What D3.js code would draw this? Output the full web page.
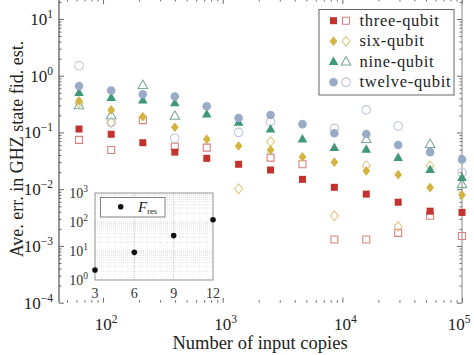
<!DOCTYPE html>
<html><head><meta charset="utf-8">
<script src="https://cdn.jsdelivr.net/npm/d3@7"></script>
<style>body{margin:0;background:#fff}svg{display:block}text{font-family:"Liberation Serif","Times New Roman",serif}</style>
</head><body><svg id="c" width="474" height="355"></svg>
<script>
// ---- data ----
const copies = [63, 117, 215, 398, 736, 1359, 2512, 4642, 8577, 15849, 29286, 54117, 100000];
const threeFilled  = [0.115, 0.093, 0.066, 0.045, 0.035, 0.0275, 0.0218, 0.0149, 0.0108, 0.0082, 0.0059, 0.0041, 0.0039];
const threeOpen    = [0.074, 0.049, 0.165, 0.056, 0.054, null, 0.036, 0.0275, 0.0013, 0.0013, 0.0017, 0.0034, 0.0015];
const sixFilled    = [0.36, 0.25, 0.19, 0.123, 0.076, 0.058, 0.049, 0.037, 0.030, 0.021, 0.018, 0.0107, 0.0079];
const sixOpen      = [0.33, 0.15, null, null, null, 0.0102, 0.069, null, 0.0034, 0.026, 0.0022, 0.026, null];
const nineFilled   = [0.50, 0.41, 0.37, 0.33, 0.21, 0.15, 0.114, 0.076, 0.054, 0.050, 0.036, 0.022, 0.016];
const nineOpen     = [0.30, 0.20, 0.68, 0.195, null, null, null, null, null, 0.076, null, 0.062, 0.0122];
const twelveFilled = [0.66, 0.55, 0.47, 0.43, 0.29, 0.18, 0.203, 0.14, 0.097, 0.094, 0.060, 0.045, 0.0335];
const twelveOpen   = [1.5, 0.15, null, 0.079, null, 0.10, 0.155, null, 0.118, 0.25, 0.13, null, 0.0195];
const seriesNames  = ["three-qubit", "six-qubit", "nine-qubit", "twelve-qubit"];
const yTickExps = [1, 0, -1, -2, -3, -4];
const xTickExps = [2, 3, 4, 5];
const insetQubits = [3, 6, 9, 12];
const insetFres = [2.2, 9, 34, 120];
const insetYExps = [0, 1, 2, 3];
const insetLegend = "res";

// ---- styles ----
const cols = {
  three:  {fill: "#c3322c", open: "#d6837f"},
  six:    {fill: "#d4b33f", open: "#ddc982"},
  nine:   {fill: "#3c9a78", open: "#7fa999"},
  twelve: {fill: "#9aabc8", open: "#c0c7d6"}
};
const shapes = {
  square: {draw(c){ const s=3.5; c.moveTo(-s,-s); c.lineTo(s,-s); c.lineTo(s,s); c.lineTo(-s,s); c.closePath(); }},
  diamond:{draw(c){ const h=4.9,w=3.9; c.moveTo(0,-h); c.lineTo(w,0); c.lineTo(0,h); c.lineTo(-w,0); c.closePath(); }},
  triangle:{draw(c){ c.moveTo(0,-5.2); c.lineTo(4.8,3.3); c.lineTo(-4.8,3.3); c.closePath(); }},
  circle: {draw(c){ const r=4.3; c.moveTo(r,0); c.arc(0,0,r,0,2*Math.PI); c.closePath(); }}
};

const svg = d3.select("#c");
const x = d3.scaleLog().domain([Math.pow(10,1.632), 1e5]).range([59, 462]);
const y = d3.scaleLog().domain([1e-4, Math.pow(10,1.352)]).range([302.7, -1]);

// ---- axes ----
const yMinor = [], xMinor = [];
for (let e=-4; e<=1; e++) for (let m=2; m<=9; m++) { const v=m*Math.pow(10,e); if (v<y.domain()[1]) yMinor.push(v); }
for (let e=1; e<=4; e++) for (let m=2; m<=9; m++) { const v=m*Math.pow(10,e); if (v>x.domain()[0] && v<1e5) xMinor.push(v); }
const yMajor = yTickExps.map(e=>Math.pow(10,e));
const xMajor = xTickExps.map(e=>Math.pow(10,e));

function addAxis(gen, tx, ty, vals, size){
  const g = svg.append("g").attr("transform",`translate(${tx},${ty})`)
    .call(gen.tickValues(vals).tickSize(size).tickSizeOuter(0).tickFormat(""));
  g.selectAll("path.domain").remove();
  g.selectAll("line").attr("stroke","#444").attr("stroke-width",0.8);
  return g;
}
addAxis(d3.axisRight(y), 59, 0, yMajor, 5);
addAxis(d3.axisRight(y), 59, 0, yMinor, 2.5);
addAxis(d3.axisLeft(y), 462, 0, yMajor, 5);
addAxis(d3.axisLeft(y), 462, 0, yMinor, 2.5);
addAxis(d3.axisTop(x), 0, 302.7, xMajor, 5);
addAxis(d3.axisTop(x), 0, 302.7, xMinor, 2.5);
addAxis(d3.axisBottom(x), 0, -1, xMajor, 5);
addAxis(d3.axisBottom(x), 0, -1, xMinor, 2.5);
svg.append("line").attr("x1",59).attr("x2",59).attr("y1",y.range()[1]).attr("y2",y.range()[0]).attr("stroke","#333").attr("stroke-width",1);
svg.append("line").attr("x1",462).attr("x2",462).attr("y1",y.range()[1]).attr("y2",y.range()[0]).attr("stroke","#888").attr("stroke-width",1);

function sup(sel, base, exp, bs, es, rise){
  sel.append("tspan").attr("font-size",bs).text(base);
  sel.append("tspan").attr("font-size",es).attr("dy",-rise).text(exp);
}
yTickExps.forEach(e=>{
  const t = svg.append("text").attr("x",53).attr("y",y(Math.pow(10,e))+6).attr("text-anchor","end").attr("fill","#222");
  sup(t,"10", e<0 ? "\u2212"+(-e) : ""+e, 17, 11.5, 7);
});
xTickExps.forEach(e=>{
  const cx = Math.min(x(Math.pow(10,e))+3, 459);
  const t = svg.append("text").attr("x",cx).attr("y",330).attr("text-anchor","middle").attr("fill","#222");
  sup(t,"10",""+e,17,11.5,7);
});
svg.append("text").attr("x",260).attr("y",349).attr("text-anchor","middle").attr("font-size",18.5).attr("fill","#222").text("Number of input copies");
svg.append("text").attr("transform","translate(23,149) rotate(-90)").attr("text-anchor","middle").attr("font-size",18).attr("fill","#222").text("Ave. err. in GHZ state fid. est.");

// ---- markers ----
const series = [
  {v: threeOpen,  c: cols.three.open,  s: shapes.square,  open: true},
  {v: sixOpen,    c: cols.six.open,    s: shapes.diamond, open: true},
  {v: nineOpen,   c: cols.nine.open,   s: shapes.triangle,open: true},
  {v: twelveOpen, c: cols.twelve.open, s: shapes.circle,  open: true},
  {v: threeFilled,  c: cols.three.fill,  s: shapes.square},
  {v: sixFilled,    c: cols.six.fill,    s: shapes.diamond},
  {v: nineFilled,   c: cols.nine.fill,   s: shapes.triangle},
  {v: twelveFilled, c: cols.twelve.fill, s: shapes.circle}
];
series.forEach(sr=>{
  const pts = copies.map((cp,i)=>({cp, v: sr.v[i]})).filter(d=>d.v!=null);
  svg.append("g").selectAll("path").data(pts).join("path")
    .attr("transform", d=>`translate(${x(d.cp)},${y(d.v)})`)
    .attr("d", d3.symbol().type(sr.s))
    .attr("fill", sr.open ? "none" : sr.c)
    .attr("stroke", sr.open ? sr.c : "none")
    .attr("stroke-width", 1.1);
});

// ---- legend ----
const lg = svg.append("g");
lg.append("rect").attr("x",319).attr("y",9.5).attr("width",135).attr("height",85.5).attr("fill","#fff").attr("stroke","#555").attr("stroke-width",0.9);
const keys = ["three","six","nine","twelve"], shp = [shapes.square, shapes.diamond, shapes.triangle, shapes.circle];
seriesNames.forEach((nm,i)=>{
  const cy = 20.7 + i*20.5;
  lg.append("path").attr("transform",`translate(333.5,${cy})`).attr("d",d3.symbol().type(shp[i])).attr("fill",cols[keys[i]].fill);
  lg.append("path").attr("transform",`translate(346,${cy})`).attr("d",d3.symbol().type(shp[i])).attr("fill","none").attr("stroke",cols[keys[i]].open).attr("stroke-width",1.1);
  lg.append("text").attr("x",359.5).attr("y",cy+5).attr("font-size",16.5).attr("letter-spacing",0.7).attr("fill","#222").text(nm);
});

// ---- inset ----
const xi = d3.scaleLinear().domain([3,12]).range([95,213]);
const yi = d3.scaleLog().domain([1,1000]).range([280,193]);
const ins = svg.append("g");
ins.append("rect").attr("x",95).attr("y",193).attr("width",118).attr("height",87).attr("fill","#fff");
const giMinor = [];
for (let e=0;e<3;e++) for (let m=2;m<=9;m++) giMinor.push(m*Math.pow(10,e));
ins.selectAll("line.hm").data(giMinor).join("line").attr("x1",95).attr("x2",213).attr("y1",d=>yi(d)).attr("y2",d=>yi(d)).attr("stroke","#d4d4d4").attr("stroke-width",0.6).attr("stroke-dasharray","1,1");
ins.selectAll("line.hM").data([10,100]).join("line").attr("x1",95).attr("x2",213).attr("y1",d=>yi(d)).attr("y2",d=>yi(d)).attr("stroke","#c8c8c8").attr("stroke-width",0.7).attr("stroke-dasharray","1,1");
ins.selectAll("line.vm").data(d3.range(3.5,12,0.5)).join("line").attr("x1",d=>xi(d)).attr("x2",d=>xi(d)).attr("y1",193).attr("y2",280).attr("stroke","#e2e2e2").attr("stroke-width",0.6).attr("stroke-dasharray","1,1");
ins.selectAll("line.vM").data([6,9]).join("line").attr("x1",d=>xi(d)).attr("x2",d=>xi(d)).attr("y1",193).attr("y2",280).attr("stroke","#bbb").attr("stroke-width",0.7).attr("stroke-dasharray","1,1");
ins.append("rect").attr("x",95).attr("y",193).attr("width",118).attr("height",87).attr("fill","none").attr("stroke","#888").attr("stroke-width",0.9);
insetYExps.forEach(e=>{
  const t = ins.append("text").attr("x",88).attr("y",yi(Math.pow(10,e))+5).attr("text-anchor","end").attr("fill","#333");
  sup(t,"10",""+e,14,9.5,6);
});
insetQubits.forEach(q=>{
  ins.append("text").attr("x",xi(q)).attr("y",298).attr("text-anchor","middle").attr("font-size",14).attr("fill","#333").text(q);
});
ins.selectAll("circle.p").data(insetQubits.map((q,i)=>({q,v:insetFres[i]}))).join("circle")
  .attr("cx",d=>xi(d.q)).attr("cy",d=>yi(d.v)).attr("r",2.8).attr("fill","#111");
ins.append("rect").attr("x",100.5).attr("y",197.5).attr("width",64.5).attr("height",19.5).attr("fill","#fff").attr("stroke","#777").attr("stroke-width",0.9);
ins.append("circle").attr("cx",120.7).attr("cy",206.8).attr("r",2.8).attr("fill","#111");
const ft = ins.append("text").attr("x",138).attr("y",212).attr("fill","#222");
ft.append("tspan").attr("font-size",15).attr("font-style","italic").text("F");
ft.append("tspan").attr("font-size",8.5).attr("dy",1.5).text(insetLegend);
</script></body></html>
